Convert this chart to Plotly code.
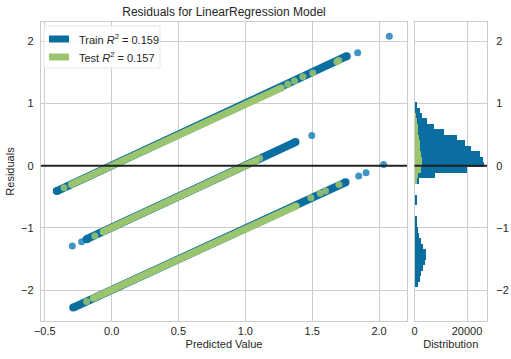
import plotly.graph_objects as go

W, H = 511, 359

# ---------------- data ----------------
# Dense train bands (start / end of each continuous band)
train_band_pred = [[-0.41, 1.758], [-0.187, 1.375], [-0.287, 1.749]]
train_band_resid = [[-0.406, 1.761], [-1.18, 0.38], [-2.28, -0.267]]

# Isolated train points
train_pts_pred = [1.84, 2.077, -0.294, -0.224, 1.343, 1.497, 1.848, 1.903, 2.034]
train_pts_resid = [1.814, 2.08, -1.289, -1.22, 0.343, 0.488, -0.165, -0.112, 0.022]

# Dense test bands
test_band_pred = [[-0.30, 1.268], [-0.063, 1.08], [-0.137, 1.38]]
test_band_resid = [[-0.30, 1.25], [-1.06, 0.08], [-2.13, -0.647]]

# Isolated test points
test_pts_pred = [-0.356, 1.318, 1.368, 1.43, 1.505, 1.684, 1.699,
                 -0.125, 1.107,
                 -0.187, 1.49, 1.56, 1.60, 1.70]
test_pts_resid = [-0.353, 1.31, 1.36, 1.43, 1.49, 1.67, 1.69,
                  -1.13, 0.12,
                  -2.18, -0.514, -0.443, -0.406, -0.30]

# Histogram of residuals (bins from top edge downwards)
bin_top = 1.022
bin_width = 0.0874
train_counts = [900, 1800, 2800, 4600, 7400, 11000, 15900, 19000, 21300, 24700,
                25900, 26300, 19700, 7800, 1600, 0, 0, 450, 450, 0,
                0, 450, 600, 1100, 1700, 2450, 3200, 4050, 4350, 3700,
                3200, 2400, 1850, 1000]
test_counts = [0, 0, 250, 800, 1000, 1150, 1500, 1800, 2000, 2300,
               2500, 2550, 2100, 1100, 500]

train_label = "Train <i>R</i><sup>2</sup> = 0.159"
test_label = "Test <i>R</i><sup>2</sup> = 0.157"
title_text = "Residuals for LinearRegression Model"

# ---------------- styling / layout ----------------
BLUE = "#0a6fa0"
BLUE_PT = "#0072B2"
GREEN = "#9bc46e"
GRID = "#cccccc"
TXT = "#262626"
FONT = "Liberation Sans"

ML, MR, MT, MB = 41, 24, 22, 38          # plot-area margins in px
PW, PH = W - ML - MR, H - MT - MB         # plot-area size


def fx(p):  # pixel x -> paper x
    return (p - ML) / PW


def fy(p):  # pixel y -> paper y
    return (H - MB - p) / PH


main_xdom = [0, fx(407)]
hist_xdom = [fx(414.5), 1]
ydom = [0, 1]
yrange = [-2.495, 2.31]

fig = go.Figure()

# train bands
for bx, by in zip(train_band_pred, train_band_resid):
    fig.add_trace(go.Scatter(x=bx, y=by, mode="lines+markers",
                             line=dict(color=BLUE, width=8),
                             marker=dict(color=BLUE, size=8),
                             showlegend=False, hoverinfo="skip"))
fig.add_trace(go.Scatter(x=train_pts_pred, y=train_pts_resid, mode="markers",
                         marker=dict(color=BLUE_PT, size=7, opacity=0.75),
                         showlegend=False))
# test bands
for bx, by in zip(test_band_pred, test_band_resid):
    fig.add_trace(go.Scatter(x=bx, y=by, mode="lines+markers",
                             line=dict(color=GREEN, width=7),
                             marker=dict(color=GREEN, size=7),
                             showlegend=False, hoverinfo="skip"))
fig.add_trace(go.Scatter(x=test_pts_pred, y=test_pts_resid, mode="markers",
                         marker=dict(color=GREEN, size=7, opacity=0.85),
                         showlegend=False))

# histograms
train_centers = [bin_top - (i + 0.5) * bin_width for i in range(len(train_counts))]
test_centers = [bin_top - (i + 0.5) * bin_width for i in range(len(test_counts))]
fig.add_trace(go.Bar(x=train_counts, y=train_centers, orientation="h",
                     width=bin_width, marker=dict(color=BLUE, line=dict(width=0)),
                     xaxis="x2", yaxis="y2", showlegend=False))
fig.add_trace(go.Bar(x=test_counts, y=test_centers, orientation="h",
                     width=bin_width, marker=dict(color=GREEN, line=dict(width=0)),
                     xaxis="x2", yaxis="y2", showlegend=False))

axis_common = dict(showgrid=True, gridcolor=GRID, gridwidth=1, automargin=False,
                   showline=True, mirror=True, linecolor=GRID, linewidth=1.3,
                   zeroline=False, ticks="", tickfont=dict(size=11, color=TXT))

fig.update_layout(
    width=W, height=H,
    margin=dict(l=ML, r=MR, t=MT, b=MB, autoexpand=False),
    paper_bgcolor="white", plot_bgcolor="white",
    font=dict(family=FONT, size=11, color=TXT),
    barmode="overlay", bargap=0,
    showlegend=False,
    title=dict(text=title_text, xref="container", yref="container",
               x=224 / W, xanchor="center",
               y=1 - 12 / H, yanchor="middle", font=dict(size=12, color=TXT)),
    xaxis=dict(domain=main_xdom, range=[-0.528, 2.209], tick0=-0.5, dtick=0.5,
               tickformat=".1f", anchor="y",
               title=dict(text="Predicted Value", standoff=3, font=dict(size=11)),
               **axis_common),
    yaxis=dict(domain=ydom, range=yrange, tick0=0, dtick=1, anchor="x",
               ticklabelstandoff=4,
               title=dict(text="Residuals", standoff=4, font=dict(size=11)),
               **axis_common),
    xaxis2=dict(domain=hist_xdom, range=[0, 27615], tickvals=[0, 20000],
                ticktext=["0", "20000"], anchor="y2",
                title=dict(text="Distribution", standoff=3, font=dict(size=11)),
                **axis_common),
    yaxis2=dict(domain=ydom, range=yrange, tick0=0, dtick=1, anchor="x2",
                side="right", ticklabelstandoff=6, **axis_common),
)

# zero lines
fig.add_shape(type="line", xref="x domain", yref="y", x0=0, x1=1, y0=0, y1=0,
              line=dict(color="#222222", width=2))
fig.add_shape(type="line", xref="x2 domain", yref="y2", x0=0, x1=1, y0=0, y1=0,
              line=dict(color="#222222", width=2))

# legend (matplotlib-style patches)
fig.add_shape(type="rect", xref="paper", yref="paper",
              x0=fx(44), x1=fx(160), y0=fy(68), y1=fy(26),
              fillcolor="rgba(255,255,255,0.85)", line=dict(color="#e6e6e6", width=1))
fig.add_shape(type="rect", xref="paper", yref="paper",
              x0=fx(49), x1=fx(69), y0=fy(42.5), y1=fy(35.5),
              fillcolor=BLUE, line=dict(width=0))
fig.add_shape(type="rect", xref="paper", yref="paper",
              x0=fx(49), x1=fx(69), y0=fy(60.5), y1=fy(53.5),
              fillcolor=GREEN, line=dict(width=0))
fig.add_annotation(xref="paper", yref="paper", x=fx(77), y=fy(39),
                   text=train_label, showarrow=False, xanchor="left", yanchor="middle",
                   font=dict(size=11, color=TXT))
fig.add_annotation(xref="paper", yref="paper", x=fx(77), y=fy(57),
                   text=test_label, showarrow=False, xanchor="left", yanchor="middle",
                   font=dict(size=11, color=TXT))

fig.write_html("out.html", config={"displayModeBar": False},
               post_script="document.body.style.margin='0';document.body.style.overflow='hidden';")
